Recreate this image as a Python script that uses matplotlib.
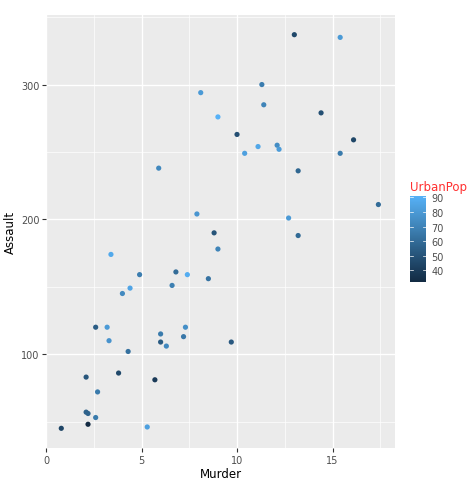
import numpy as np
import matplotlib.pyplot as plt
from matplotlib.colors import LinearSegmentedColormap, Normalize

# USArrests
murder = [13.2, 10.0, 8.1, 8.8, 9.0, 7.9, 3.3, 5.9, 15.4, 17.4,
          5.3, 2.6, 10.4, 7.2, 2.2, 6.0, 9.7, 15.4, 2.1, 11.3,
          4.4, 12.1, 2.7, 16.1, 9.0, 6.0, 4.3, 12.2, 2.1, 7.4,
          11.4, 11.1, 13.0, 0.8, 7.3, 6.6, 4.9, 6.3, 3.4, 14.4,
          3.8, 13.2, 12.7, 3.2, 2.2, 8.5, 4.0, 5.7, 2.6, 6.8]
assault = [236, 263, 294, 190, 276, 204, 110, 238, 335, 211,
           46, 120, 249, 113, 56, 115, 109, 249, 83, 300,
           149, 255, 72, 259, 178, 109, 102, 252, 57, 159,
           285, 254, 337, 45, 120, 151, 159, 106, 174, 279,
           86, 188, 201, 120, 48, 156, 145, 81, 53, 161]
urbanpop = [58, 48, 80, 50, 91, 78, 77, 72, 80, 60,
            83, 54, 83, 65, 57, 66, 52, 66, 51, 67,
            85, 74, 66, 44, 70, 53, 62, 81, 56, 89,
            70, 86, 45, 44, 75, 68, 67, 72, 87, 48,
            45, 59, 80, 80, 32, 63, 73, 39, 66, 60]
cb_ticks = [40, 50, 60, 70, 80, 90]

# ggplot default continuous gradient
cmap = LinearSegmentedColormap.from_list(
    "gg", ["#132B43", "#1F4566", "#2D618A", "#3C7EB0", "#4A98D3", "#56B1F7"])
norm = Normalize(vmin=min(urbanpop), vmax=max(urbanpop))

fig = plt.figure(figsize=(4.74, 5.02), dpi=100)
W, H = 474, 502
ax = fig.add_axes([46 / W, 1 - 449 / H, (395 - 46) / W, (449 - 16) / H])
ax.set_facecolor("#EBEBEB")
for s in ax.spines.values():
    s.set_visible(False)

ax.scatter(murder, assault, c=urbanpop, cmap=cmap, norm=norm, s=14,
           linewidths=0, zorder=3)

ax.set_xlim(0, 18.27)
ax.set_ylim(30.4, 351.6)
ax.set_xticks([0, 5, 10, 15])
ax.set_yticks([100, 200, 300])
ax.set_xticks([2.5, 7.5, 12.5, 17.5], minor=True)
ax.set_yticks([50, 150, 250, 350], minor=True)
ax.grid(True, which="major", color="white", linewidth=1.0, zorder=1)
ax.grid(True, which="minor", color="white", linewidth=0.5, zorder=1)
ax.tick_params(which="major", length=2.7, width=0.8, color="#333333",
               labelsize=7, labelcolor="#4D4D4D", pad=2)
ax.tick_params(which="minor", length=0)
ax.set_xlabel("Murder", fontsize=8.5, labelpad=2)
ax.set_ylabel("Assault", fontsize=8.5, labelpad=3)

# colourbar legend
cax = fig.add_axes([410 / W, 1 - 283 / H, 16 / W, (283 - 197) / H])
grad = np.linspace(norm.vmin, norm.vmax, 200).reshape(-1, 1)
cax.imshow(grad, aspect="auto", cmap=cmap, norm=norm, origin="lower",
           extent=[0, 1, norm.vmin, norm.vmax])
cax.set_xticks([])
cax.set_yticks(cb_ticks)
cax.yaxis.tick_right()
cax.tick_params(axis="y", length=0, labelsize=7, labelcolor="#4D4D4D", pad=4)
for t in cb_ticks:
    cax.plot([0, 0.2], [t, t], color="white", lw=0.5)
    cax.plot([0.8, 1], [t, t], color="white", lw=0.5)
cax.set_xlim(0, 1)
cax.set_ylim(norm.vmin, norm.vmax)
for s in cax.spines.values():
    s.set_visible(False)
fig.text(410 / W, 1 - 187 / H, "UrbanPop", color="#FF3030", fontsize=8.5,
         va="center", ha="left")

fig.savefig("out.png", dpi=100)
